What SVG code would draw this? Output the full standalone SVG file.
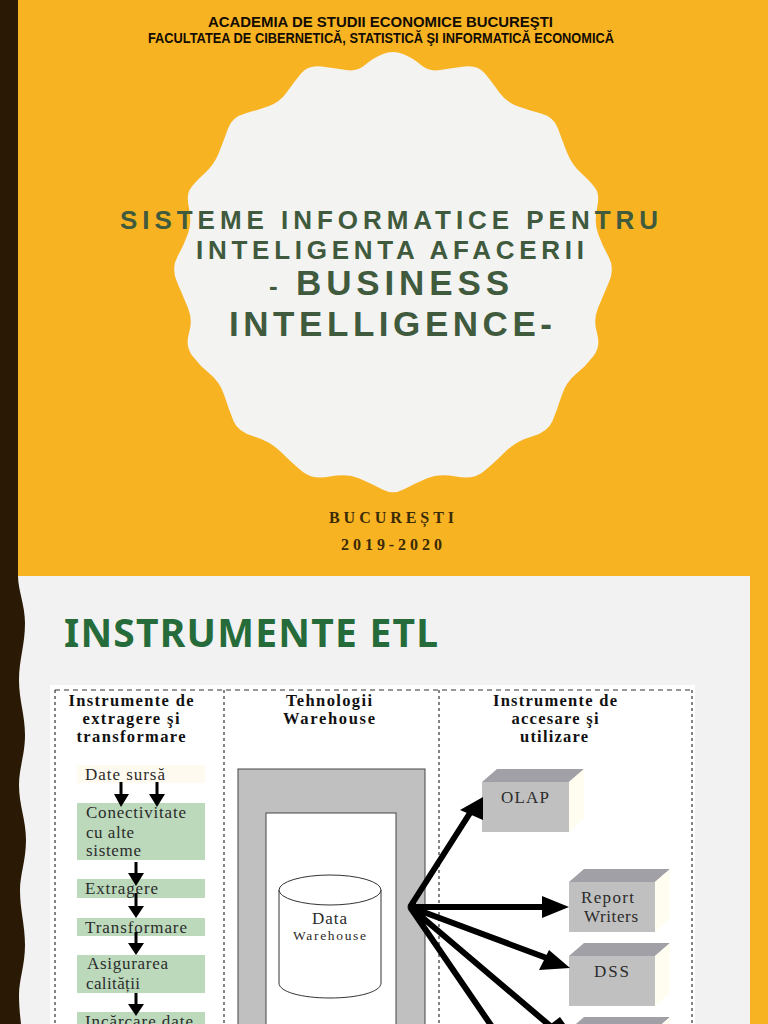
<svg xmlns="http://www.w3.org/2000/svg" width="768" height="1024" viewBox="0 0 768 1024">
<style>
.sans{font-family:"Liberation Sans",Arial,sans-serif;font-weight:700}
.ttl{fill:#3f5a3c}
.ser{font-family:"Liberation Serif","Times New Roman",serif;fill:#2b2b2b;font-size:17px}
.hd{font-family:"Liberation Serif","Times New Roman",serif;font-weight:700;font-size:16.5px;fill:#111;text-anchor:middle}
.yr{font-family:"Liberation Serif","Times New Roman",serif;font-weight:700;font-size:16px;fill:#3a2a05}
.green{fill:#bcd9bc}
.front{fill:#c0c0c0}
.top{fill:#a0a0a6}
.side{fill:#fffcf0}
.dh{fill:none;stroke:#333;stroke-width:1.2;stroke-dasharray:5 4}
.dv{fill:none;stroke:#333;stroke-width:1.2;stroke-dasharray:3 3}
.sh{stroke:#000;stroke-width:6;fill:none}
.thin{stroke:#000;stroke-width:3;fill:none}
</style>
<rect id="background" width="768" height="1024" fill="#f8b323"/>
<path id="panel" d="M18,576H750V1024H18Z" fill="#f2f2f2"/>
<path id="bar" d="M0,0H18V576C18,590 25,605 25,623C25,645 19,660 19,680C19,700 25,715 25,735C25,755 19,768 19,785C19,805 26,820 26,840C26,860 20,875 20,890C20,910 25,925 25,945C25,965 19,980 19,995C19,1005 20,1015 21,1024H0Z" fill="#2a1a05"/>
<path id="scallop" fill="#f3f3f2" d="M403,54Q393,50 383,54Q373,58 365,65Q357,72 346,70Q335,68 321.5,66.5Q308,65 301,73.5Q294,82 287,92Q280,102 269,106Q258,110 245,113.5Q232,117 228,128.5Q224,140 219,152.5Q214,165 204.5,173.5Q195,182 190.5,188.5Q186,195 189,208.5Q192,222 188,233.5Q184,245 177.5,256.5Q171,268 177,282Q183,296 188,308Q193,320 189,333Q185,346 192.5,356Q200,366 210,374Q220,382 224.5,396Q229,410 233.5,421Q238,432 254,436.5Q270,441 281.5,452.5Q293,464 303,472Q313,480 330,476.5Q347,473 359.5,478.5Q372,484 382.5,489.5Q393,495 403.5,489.5Q414,484 426.5,478.5Q439,473 456,476.5Q473,480 483,472Q493,464 504.5,452.5Q516,441 532,436.5Q548,432 552.5,421Q557,410 561.5,396Q566,382 576,374Q586,366 593.5,356Q601,346 597,333Q593,320 598,308Q603,296 609,282Q615,268 608.5,256.5Q602,245 598,233.5Q594,222 597,208.5Q600,195 595.5,188.5Q591,182 581.5,173.5Q572,165 567,152.5Q562,140 558,128.5Q554,117 541,113.5Q528,110 517,106Q506,102 499,92Q492,82 485,73.5Q478,65 464.5,66.5Q451,68 440,70Q429,72 421,65Q413,58 403,54Z"/>
<g id="header">
<text class="sans" x="208" y="27" font-size="15" fill="#120c02" textLength="345" lengthAdjust="spacingAndGlyphs">ACADEMIA DE STUDII ECONOMICE BUCUREŞTI</text>
<text class="sans" x="148" y="43" font-size="14" fill="#120c02" textLength="466" lengthAdjust="spacingAndGlyphs">FACULTATEA DE CIBERNETICĂ, STATISTICĂ ŞI INFORMATICĂ ECONOMICĂ</text>
</g>
<g id="title">
<text class="sans ttl" x="120" y="229" font-size="26" textLength="538">SISTEME INFORMATICE PENTRU</text>
<text class="sans ttl" x="196" y="259" font-size="26" textLength="388">INTELIGENTA AFACERII</text>
<text class="sans ttl" x="269" y="295" font-size="26">-</text>
<text class="sans ttl" x="296" y="295" font-size="35" textLength="213">BUSINESS</text>
<text class="sans ttl" x="229" y="336" font-size="35" textLength="323">INTELLIGENCE-</text>
</g>
<g id="place">
<text class="yr" x="329" y="523" textLength="125">BUCUREȘTI</text>
<text class="yr" x="341" y="550" textLength="101">2019-2020</text>
</g>
<text id="slide-title" x="64" y="647" font-family="'Noto Sans',sans-serif" font-weight="700" font-size="39" fill="#266b3a" textLength="374">INSTRUMENTE ETL</text>
<rect id="figure" x="50" y="685" width="645" height="339" fill="#fff"/>
<g id="frame">
<path class="dh" d="M55,690H692"/>
<path class="dv" d="M55,690V1024M224,690V1024M439,690V1024M692,690V1024"/>
</g>
<g id="headers">
<text class="hd" x="131" y="706" textLength="125">Instrumente de</text>
<text class="hd" x="131" y="724" textLength="97">extragere şi</text>
<text class="hd" x="131" y="742" textLength="109">transformare</text>
<text class="hd" x="329" y="706" textLength="86">Tehnologii</text>
<text class="hd" x="329" y="724" textLength="92">Warehouse</text>
<text class="hd" x="555" y="706" textLength="124">Instrumente de</text>
<text class="hd" x="555" y="724" textLength="87">accesare şi</text>
<text class="hd" x="554" y="742" textLength="68">utilizare</text>
</g>
<g id="node-date-sursa"><rect x="77" y="765" width="128" height="18" fill="#fffaf0"/><text class="ser" x="85" y="780" textLength="80">Date sursă</text></g>
<g id="node-conectivitate"><rect class="green" x="77" y="803" width="128" height="57"/><text class="ser" x="86" y="818" textLength="100">Conectivitate</text><text class="ser" x="86" y="838" textLength="48">cu alte</text><text class="ser" x="86" y="856" textLength="55">sisteme</text></g>
<g id="node-extragere"><rect class="green" x="77" y="879" width="128" height="19"/><text class="ser" x="85" y="894" textLength="73">Extragere</text></g>
<g id="node-transformare"><rect class="green" x="77" y="918" width="128" height="18"/><text class="ser" x="85" y="933" textLength="102">Transformare</text></g>
<g id="node-asigurarea"><rect class="green" x="77" y="955" width="128" height="38"/><text class="ser" x="87" y="969" textLength="81">Asigurarea</text><text class="ser" x="86" y="989" textLength="54">calității</text></g>
<g id="node-incarcare"><rect class="green" x="77" y="1012" width="128" height="12"/><text class="ser" x="85" y="1027" textLength="108">Incărcare date</text></g>
<g id="node-warehouse">
<rect x="238" y="769" width="187" height="265" fill="#c0c0c0" stroke="#444" stroke-width="1"/>
<rect x="266" y="813" width="130" height="221" fill="#fff" stroke="#444" stroke-width="1"/>
<path d="M279,890V983C279,992 302,998 330,998C358,998 381,992 381,983V890" fill="#fff" stroke="#333" stroke-width="1"/>
<ellipse cx="330" cy="890" rx="51" ry="15" fill="#fff" stroke="#333" stroke-width="1"/>
<text class="ser" x="312" y="924" textLength="35">Data</text>
<text class="ser" x="293" y="940" style="font-size:13.5px" textLength="73">Warehouse</text>
</g>
<g id="node-olap"><path class="top" d="M482,782L497,769H584L569,782Z"/><path class="side" d="M569,782L584,769V818L569,832Z"/><rect class="front" x="482" y="782" width="87" height="50"/><text class="ser" x="501" y="803" textLength="48">OLAP</text></g>
<g id="node-report"><path class="top" d="M569,882L584,869H670L655,882Z"/><path class="side" d="M655,882L670,869V918L655,932Z"/><rect class="front" x="569" y="882" width="86" height="50"/><text class="ser" x="581" y="903" textLength="53">Report</text><text class="ser" x="584" y="922" textLength="54">Writers</text></g>
<g id="node-dss"><path class="top" d="M569,956L584,943H670L655,956Z"/><path class="side" d="M655,956L670,943V992L655,1006Z"/><rect class="front" x="569" y="956" width="86" height="50"/><text class="ser" x="594" y="977" textLength="35">DSS</text></g>
<g id="node-fourth"><path class="top" d="M569,1030L584,1017H670L655,1030Z"/><path class="side" d="M655,1030L670,1017V1024Z"/></g>
<g id="connectors">
<path class="thin" d="M121,782V796M157,782V796M136,862V875M136,893V908M136,932V944M136,993V1006"/>
<path d="M114,794H129L121,807ZM149,794H165L157,807ZM128,873H144L136,886ZM128,906H144L136,918ZM128,943H144L136,955ZM128,1004H144L136,1016Z" fill="#000"/>
<path class="sh" d="M410,907L470,813M410,907H545M410,907L552,960M410,907L555,1030M410,907L497,1034"/>
<path d="M483,797L460,810L483,820ZM542,896L569,907L542,918ZM549,950L570,968L539,970ZM560,1017L578,1042L535,1036Z" fill="#000"/>
<path d="M407,907L416,901V913Z" fill="#000"/>
</g>
</svg>
